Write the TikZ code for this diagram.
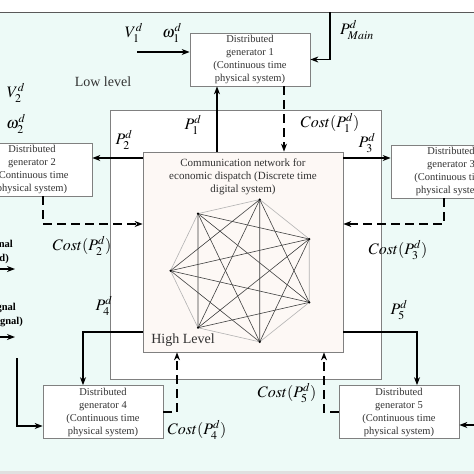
\documentclass[tikz,border=0pt]{standalone}
\usepackage{mathptmx}
\usepackage[no-math]{fontspec}
\setmainfont{Liberation Serif}
\usetikzlibrary{arrows.meta}

\definecolor{bgcyan}{RGB}{237,250,247}
\definecolor{netfill}{RGB}{253,248,245}
\definecolor{boxtext}{RGB}{50,50,50}

\tikzset{
  genbox/.style={draw=gray, line width=0.7pt, fill=white, minimum width=120pt, minimum height=53pt,
    inner sep=1pt, align=center, text=boxtext, font=\fontsize{10.5}{13}\selectfont},
  sig/.style={line width=1.5pt, -{Stealth[length=8pt,width=6pt]}},
  dsig/.style={sig, dash pattern=on 9pt off 5pt},
  lbl/.style={font=\fontsize{16}{16}\selectfont, inner sep=0pt},
  chord/.style={line width=0.6pt, black!75},
  outer/.style={line width=0.6pt, black!30},
  legend/.style={font=\bfseries\fontsize{10.5}{12}\selectfont, anchor=east, inner sep=0pt}
}

\begin{document}
\begin{tikzpicture}[x=1pt,y=-1pt]
\useasboundingbox (0,0) rectangle (474,474);
\clip (0,0) rectangle (474,474);

\fill[white] (0,0) rectangle (474,12);
\fill[bgcyan] (0,12) rectangle (474,471);
\fill[black!12] (0,471) rectangle (474,474);
\draw[gray!70!black, line width=0.7pt] (0,12) -- (474,12);

\node[draw=gray, line width=0.7pt, fill=white, minimum width=271pt, minimum height=269pt] (frame) at (245.5,244.5) {};
\node[draw=gray, line width=0.7pt, fill=netfill, minimum width=200pt, minimum height=200pt] (net) at (243,252) {};
\node[align=center, text=boxtext, font=\fontsize{11}{13}\selectfont] (nettext) at (243,177)
  {Communication network for\\economic dispatch (Discrete time\\digital system)};
\node[font=\fontsize{14}{14}\selectfont, text=boxtext] (highlvl) at (183,340) {High Level};
\node[font=\fontsize{14}{14}\selectfont, text=boxtext] (lowlvl) at (103,82) {Low level};

\foreach \i in {0,...,6}
  \coordinate (h\i) at ({243.5+73*cos(180+\i*360/7)},{270.7-73*sin(180+\i*360/7)});
\draw[outer] (h0) -- (h1) -- (h2) -- (h3) -- (h4) -- (h5) -- (h6) -- cycle;
\foreach \i in {0,...,6}
  \foreach \k in {2,3}{
    \pgfmathtruncatemacro\j{mod(\i+\k,7)}
    \draw[chord] (h\i) -- (h\j);
  }
\foreach \i in {0,...,6}
  \fill[black] (h\i) circle (1.2pt);

\node[genbox] (gen1) at (250,59.5) {Distributed\\generator 1\\(Continuous time\\physical system)};
\node[genbox] (gen2) at (32,169.5) {Distributed\\generator 2\\(Continuous time\\physical system)};
\node[genbox] (gen3) at (451,171.5) {Distributed\\generator 3\\(Continuous time\\physical system)};
\node[genbox] (gen4) at (103,412) {Distributed\\generator 4\\(Continuous time\\physical system)};
\node[genbox] (gen5) at (399,412) {Distributed\\generator 5\\(Continuous time\\physical system)};

\coordinate (pm) at (330,12);
\coordinate (v1) at (137,52);
\coordinate (p1) at (217,0);
\coordinate (c1) at (284,0);
\coordinate (r1) at (0,158);
\coordinate (c2) at (43,224);
\coordinate (c3) at (444,224);
\coordinate (p4) at (83,332);
\coordinate (p5) at (417,332);
\coordinate (c4) at (177,412);
\coordinate (c5) at (324,412);
\coordinate (v4) at (17,358);
\coordinate (v4b) at (17,426);
\coordinate (v5) at (480,425);

\draw[sig] (pm) -- (pm |- gen1.east) -- (gen1.east);
\draw[sig] (v1) -- (v1 -| gen1.west);
\draw[sig] (p1 |- net.north) -- (p1 |- gen1.south);
\draw[dsig] (c1 |- gen1.south) -- (c1 |- net.north);
\draw[sig] (r1 -| net.west) -- (r1 -| gen2.east);
\draw[sig] (r1 -| net.east) -- (r1 -| gen3.west);
\draw[dsig] (c2 |- gen2.south) -- (c2) -- (c2 -| net.west);
\draw[dsig] (c3 |- gen3.south) -- (c3) -- (c3 -| net.east);
\draw[sig] (p4 -| net.west) -- (p4) -- (p4 |- gen4.north);
\draw[sig] (p5 -| net.east) -- (p5) -- (p5 |- gen5.north);
\draw[dsig] (gen4.east |- c4) -- (c4) -- (c4 |- net.south);
\draw[dsig] (gen5.west |- c5) -- (c5) -- (c5 |- net.south);
\draw[sig] (v4) -- (v4b) -- (v4b -| gen4.west);
\draw[sig] (v5) -- (v5 -| gen5.east);

\node[legend] (leg1a) at (13,245) {Physical signal};
\node[legend] (leg1b) at (9,259) {(Solid)};
\coordinate (l1) at (-20,269);
\coordinate (l1e) at (15,269);
\draw[sig] (l1) -- (l1e);
\node[legend] (leg2a) at (16,308) {Cyber signal};
\node[legend] (leg2b) at (23,322) {(Digital signal)};
\coordinate (l2) at (-20,337);
\coordinate (l2e) at (15,337);
\draw[sig] (l2) -- (l2e);

\node[lbl] (lpm) at (357,30) {$P^{d}_{Main}$};
\node[lbl] (lv1) at (134,33) {$V^{d}_{1}$};
\node[lbl] (lw1) at (172,33) {$\omega^{d}_{1}$};
\node[lbl] (lv2) at (16,93) {$V^{d}_{2}$};
\node[lbl] (lw2) at (16,124) {$\omega^{d}_{2}$};
\node[lbl] (lp1) at (193,125) {$P^{d}_{1}$};
\node[lbl] (lc1) at (330,123) {$Cost(P^{d}_{1})$};
\node[lbl] (lp2) at (124,140) {$P^{d}_{2}$};
\node[lbl] (lp3) at (367,143) {$P^{d}_{3}$};
\node[lbl] (lc2) at (82,246) {$Cost(P^{d}_{2})$};
\node[lbl] (lc3) at (398,250) {$Cost(P^{d}_{3})$};
\node[lbl] (lp4) at (104,306) {$P^{d}_{4}$};
\node[lbl] (lp5) at (399,310) {$P^{d}_{5}$};
\node[lbl] (lc4) at (197,430) {$Cost(P^{d}_{4})$};
\node[lbl] (lc5) at (287,393) {$Cost(P^{d}_{5})$};
\end{tikzpicture}
\end{document}
